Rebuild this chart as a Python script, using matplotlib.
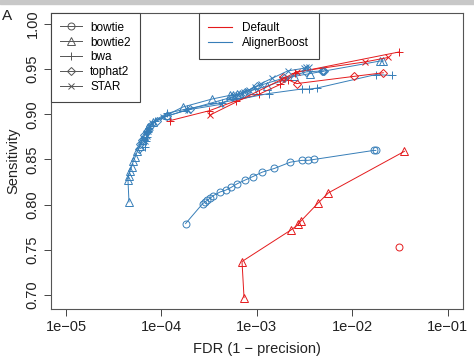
import matplotlib
matplotlib.use("Agg")
import matplotlib.pyplot as plt
from matplotlib.lines import Line2D
from matplotlib.patches import Rectangle
import numpy as np

plt.rcParams['font.family'] = ['Liberation Sans', 'DejaVu Sans']

RED = '#E41A1C'
BLUE = '#377EB8'

# ---- Data (FDR, Sensitivity) ----
# AlignerBoost
ab_bowtie_fdr = [1.79e-4, 2.70e-4, 2.87e-4, 3.03e-4, 3.23e-4, 3.50e-4, 4.11e-4, 4.71e-4, 5.36e-4,
                 6.19e-4, 7.45e-4, 9.04e-4, 1.14e-3, 1.52e-3, 2.24e-3, 2.97e-3, 3.43e-3, 3.97e-3,
                 1.67e-2, 1.76e-2]
ab_bowtie_sens = [0.779, 0.801, 0.803, 0.805, 0.807, 0.810, 0.814, 0.816, 0.819, 0.823, 0.827,
                  0.831, 0.836, 0.840, 0.847, 0.849, 0.849, 0.850, 0.860, 0.860]

ab_bowtie2_fdr = [4.57e-5, 4.46e-5, 4.53e-5, 4.68e-5, 4.87e-5, 5.07e-5, 5.32e-5, 5.59e-5, 5.96e-5,
                  6.31e-5, 6.62e-5, 7.29e-5, 8.22e-5, 1.13e-4, 1.67e-4, 3.41e-4, 5.23e-4, 5.66e-4,
                  6.13e-4, 6.64e-4, 7.49e-4, 9.13e-4, 1.27e-3, 2.45e-3, 3.57e-3, 1.95e-2, 2.11e-2]
ab_bowtie2_sens = [0.803, 0.827, 0.832, 0.837, 0.842, 0.848, 0.853, 0.859, 0.865, 0.872, 0.876,
                   0.886, 0.892, 0.899, 0.908, 0.917, 0.921, 0.921, 0.922, 0.923, 0.924, 0.927,
                   0.931, 0.942, 0.945, 0.959, 0.959]

ab_bwa_fdr = [6.78e-5, 6.9e-5, 7.0e-5, 7.15e-5, 7.35e-5, 8.5e-5, 1.13e-4, 1.84e-4, 4.28e-4,
              1.33e-3, 2.95e-3, 3.55e-3, 4.23e-3, 1.76e-2, 2.58e-2]
ab_bwa_sens = [0.864, 0.870, 0.875, 0.880, 0.885, 0.893, 0.901, 0.906, 0.913, 0.923, 0.928,
               0.928, 0.929, 0.944, 0.943]

ab_tophat2_fdr = [5.8e-5, 6.0e-5, 6.3e-5, 6.6e-5, 7.0e-5, 7.6e-5, 9.0e-5, 1.15e-4, 2.0e-4,
                  5.5e-4, 7.5e-4, 1.0e-3, 1.9e-3, 3.3e-3, 4.8e-3, 4.9e-3, 5.0e-3]
ab_tophat2_sens = [0.862, 0.867, 0.872, 0.877, 0.882, 0.887, 0.893, 0.898, 0.906, 0.919, 0.925,
                   0.931, 0.940, 0.947, 0.948, 0.948, 0.948]

ab_star_fdr = [6.8e-5, 7.0e-5, 7.2e-5, 7.5e-5, 8.0e-5, 1.05e-4, 1.9e-4, 4.2e-4, 5.8e-4, 6.3e-4,
               6.8e-4, 7.4e-4, 8.2e-4, 9.5e-4, 1.1e-3, 1.45e-3, 2.1e-3, 3.1e-3, 3.3e-3, 3.5e-3]
ab_star_sens = [0.870, 0.876, 0.881, 0.886, 0.890, 0.897, 0.905, 0.911, 0.920, 0.921, 0.923,
                0.925, 0.927, 0.930, 0.934, 0.940, 0.948, 0.951, 0.952, 0.952]

# Default
df_bowtie_fdr = [3.06e-2]
df_bowtie_sens = [0.7535]

df_bowtie2_fdr = [7.33e-4, 6.98e-4, 2.28e-3, 2.72e-3, 2.90e-3, 4.40e-3, 5.61e-3, 3.51e-2]
df_bowtie2_sens = [0.697, 0.737, 0.772, 0.778, 0.782, 0.802, 0.813, 0.859]

df_bwa_fdr = [1.23e-4, 3.18e-4, 6.04e-4, 1.04e-3, 1.75e-3, 2.1e-3, 2.5e-3, 3.08e-2]
df_bwa_sens = [0.893, 0.904, 0.915, 0.922, 0.933, 0.938, 0.946, 0.969]

df_tophat2_fdr = [1.86e-3, 2.61e-3, 1.04e-2, 2.11e-2]
df_tophat2_sens = [0.941, 0.934, 0.942, 0.946]

df_star_fdr = [3.2e-4, 1.85e-3, 2.6e-3, 1.36e-2, 2.39e-2]
df_star_sens = [0.899, 0.939, 0.947, 0.958, 0.963]

tools = ['bowtie', 'bowtie2', 'bwa', 'tophat2', 'STAR']
markers = {'bowtie': 'o', 'bowtie2': '^', 'bwa': '+', 'tophat2': 'D', 'STAR': 'x'}
msizes = {'bowtie': 5, 'bowtie2': 5.5, 'bwa': 6, 'tophat2': 4.2, 'STAR': 5}

ab = {'bowtie': (ab_bowtie_fdr, ab_bowtie_sens), 'bowtie2': (ab_bowtie2_fdr, ab_bowtie2_sens),
      'bwa': (ab_bwa_fdr, ab_bwa_sens), 'tophat2': (ab_tophat2_fdr, ab_tophat2_sens),
      'STAR': (ab_star_fdr, ab_star_sens)}
df = {'bowtie': (df_bowtie_fdr, df_bowtie_sens), 'bowtie2': (df_bowtie2_fdr, df_bowtie2_sens),
      'bwa': (df_bwa_fdr, df_bwa_sens), 'tophat2': (df_tophat2_fdr, df_tophat2_sens),
      'STAR': (df_star_fdr, df_star_sens)}

xticks = [1e-5, 1e-4, 1e-3, 1e-2, 1e-1]
xticklabels = ['1e\u221205', '1e\u221204', '1e\u221203', '1e\u221202', '1e\u221201']
yticks = [0.70, 0.75, 0.80, 0.85, 0.90, 0.95, 1.00]

fig = plt.figure(figsize=(4.74, 3.63), dpi=100)
ax = fig.add_axes([0.107, 0.149, 0.870, 0.816])

for t in tools:
    for data, col in ((df, RED), (ab, BLUE)):
        x, y = data[t]
        ax.plot(x, y, color=col, lw=0.7, marker=markers[t], ms=msizes[t], mfc='none',
                mec=col, mew=0.7)

ax.set_xscale('log')
ax.set_xlim(10 ** -5.16, 10 ** -0.84)
ax.set_ylim(0.6845, 1.0125)
ax.set_xticks(xticks)
ax.set_xticklabels(xticklabels)
ax.xaxis.set_minor_locator(matplotlib.ticker.NullLocator())
ax.set_yticks(yticks)
ax.set_yticklabels(['%.2f' % v for v in yticks], rotation=90, va='center')
ax.tick_params(axis='both', labelsize=10.5, length=5, width=0.7, color='#444444',
               labelcolor='#222222', direction='out', pad=3)
for s in ax.spines.values():
    s.set_color('#555555')
    s.set_linewidth(0.8)
ax.set_xlabel('FDR (1 \u2212 precision)', fontsize=10.5, color='#222222', labelpad=6)
ax.set_ylabel('Sensitivity', fontsize=10.5, color='#222222', labelpad=4)

GREY = '#555555'
h1 = [Line2D([], [], color=GREY, lw=0.7, marker=markers[t], ms=msizes[t], mfc='none',
             mec=GREY, mew=0.7) for t in tools]
leg1 = ax.legend(h1, tools, loc='upper left', bbox_to_anchor=(0, 1), borderaxespad=0,
                 fontsize=8.5, frameon=True, fancybox=False, edgecolor='#444444',
                 handlelength=1.9, handletextpad=0.7, labelspacing=0.25, borderpad=0.75,
                 framealpha=1)
leg1.get_frame().set_linewidth(0.8)
ax.add_artist(leg1)

h2 = [Line2D([], [], color=RED, lw=0.8), Line2D([], [], color=BLUE, lw=0.8)]
leg2 = ax.legend(h2, ['Default', 'AlignerBoost'], loc='upper left',
                 bbox_to_anchor=(0.359, 1), borderaxespad=0, fontsize=8.5, frameon=True,
                 fancybox=False, edgecolor='#444444', handlelength=2.0, handletextpad=0.9,
                 labelspacing=0.25, borderpad=0.8, framealpha=1)
leg2.get_frame().set_linewidth(0.8)

fig.patches.append(Rectangle((0, 1 - 3.5 / 363), 1, 3.5 / 363, transform=fig.transFigure,
                             color='#c8c8c8', zorder=10))
fig.text(0.004, 0.955, 'A', fontsize=11, color='#222222', va='center', ha='left')

fig.savefig('out.png', dpi=100)
